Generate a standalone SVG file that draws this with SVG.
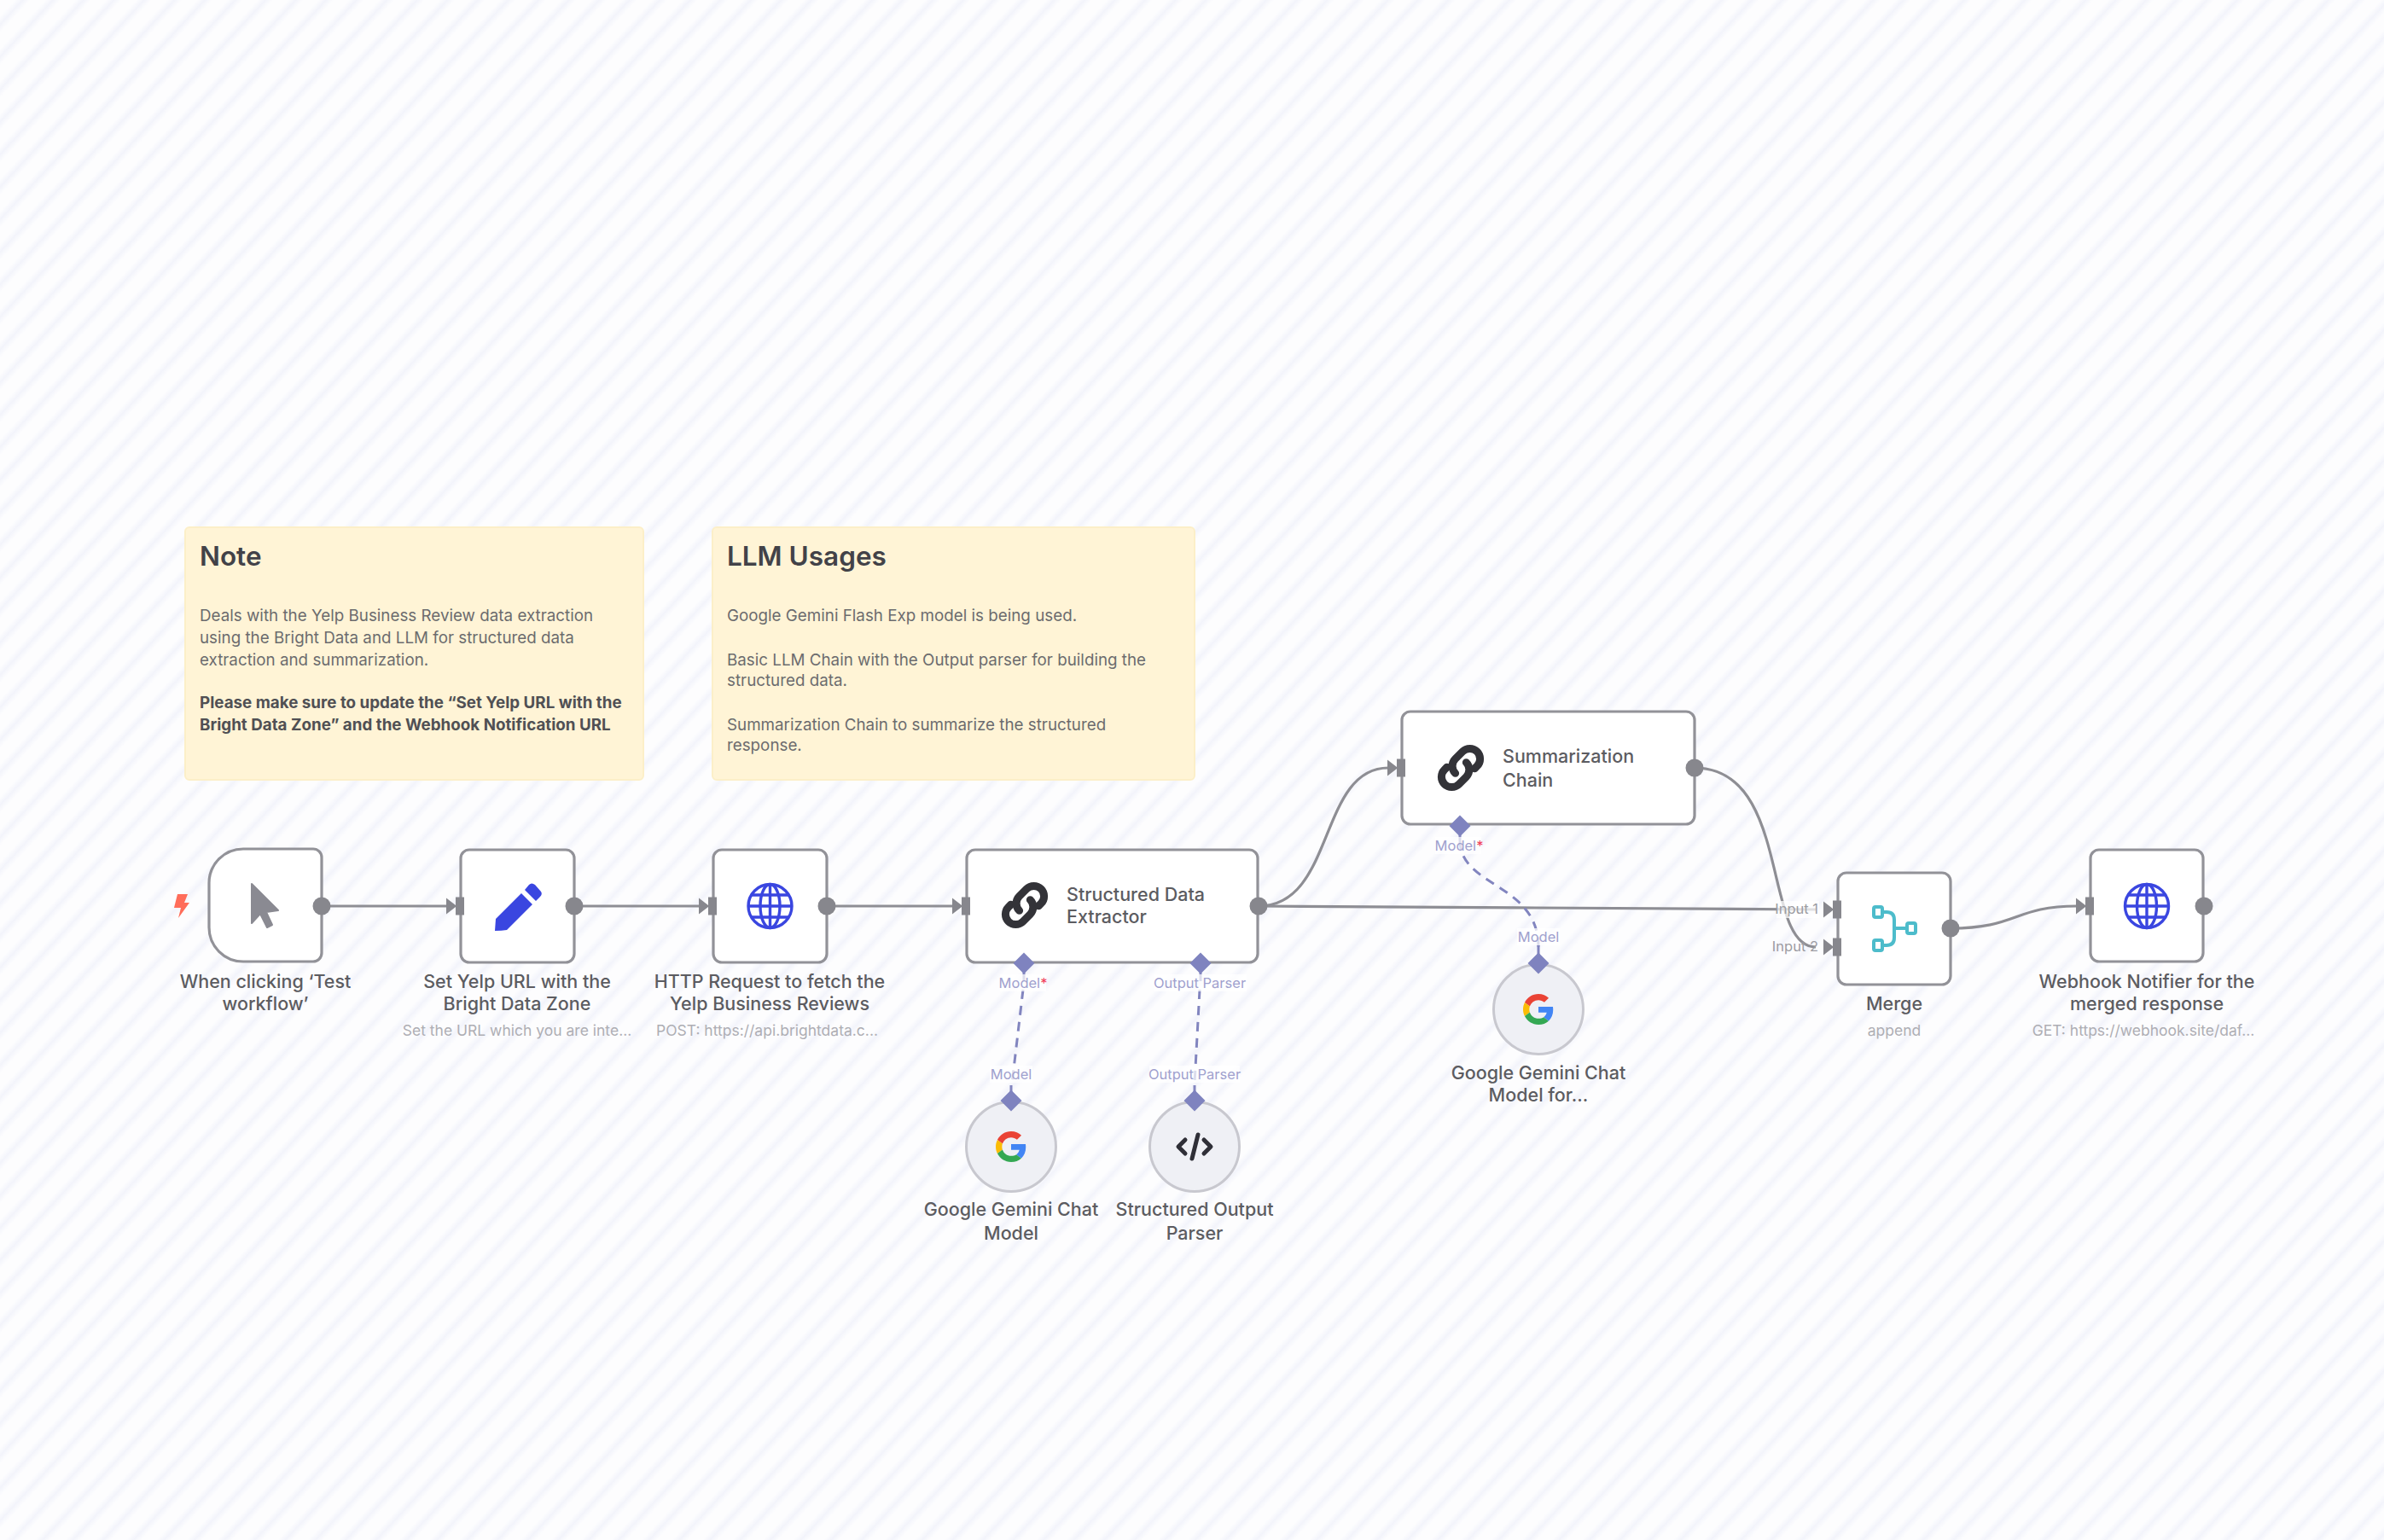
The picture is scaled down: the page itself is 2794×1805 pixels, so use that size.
<svg xmlns="http://www.w3.org/2000/svg" width="2794" height="1805" viewBox="0 0 2794 1805">
<style>
text{font-family:Inter,"Noto Sans","Liberation Sans",sans-serif}
.node{fill:#fff;stroke:#929298;stroke-width:3.2}
.sub{fill:#eff0f5;stroke:#c8c8cf;stroke-width:3}
.lbl{font-size:21.5px;font-weight:500;fill:#5c5c61;text-anchor:middle}
.title{font-size:21.5px;font-weight:500;fill:#5c5c61}
.desc{font-size:17.5px;fill:#aeaeb4;text-anchor:middle}
.port{font-size:16.5px;fill:#a0a1ce;text-anchor:middle}
.inp{font-size:16.5px;fill:#9c9ca2;text-anchor:end}
.req{fill:#f0405a}
.nt{font-size:31.5px;font-weight:600;fill:#424248}
.nb{font-size:18.8px;fill:#6c6c6e}
.nbb{font-size:18.8px;font-weight:700;fill:#505054}
.note{fill:#fff4d6;stroke:#fcefc8;stroke-width:2}
.edge{fill:none;stroke:#8e8e94;stroke-width:3.2}
.dash{fill:none;stroke:#8285bf;stroke-width:3;stroke-dasharray:11 8}
.stub{fill:none;stroke:#8285bf;stroke-width:3}
.dot{fill:#87878d}
.bar{fill:#87878d}
.dia{fill:#7f83bf}
.globe{fill:none;stroke:#3a46e0;stroke-width:3.4}
.link{fill:none;stroke:#333338;stroke-width:9;stroke-linecap:round}
.mrg{fill:none;stroke:#4dbccb;stroke-width:4}
.bgp{fill:#fff;fill-opacity:.72}
</style>
<defs>
<linearGradient id="sg" x1="0" y1="0" x2="0" y2="1">
<stop offset="0" stop-color="#fdfdfe"/><stop offset=".5" stop-color="#fdfdfe"/><stop offset=".75" stop-color="#f3f4fb"/><stop offset="1" stop-color="#fdfdfe"/>
</linearGradient>
<pattern id="stripes" width="60" height="26" patternUnits="userSpaceOnUse" patternTransform="rotate(-47)">
<rect width="60" height="26" fill="url(#sg)"/>
</pattern>
<g id="g-logo" transform="scale(.75)">
<path fill="#EA4335" d="M24 9.5c3.54 0 6.71 1.22 9.21 3.6l6.85-6.85C35.9 2.38 30.47 0 24 0 14.62 0 6.51 5.38 2.56 13.22l7.98 6.19C12.43 13.72 17.74 9.5 24 9.5z"/>
<path fill="#4285F4" d="M46.98 24.55c0-1.57-.15-3.09-.38-4.55H24v9.02h12.94c-.58 2.96-2.26 5.48-4.78 7.18l7.73 6c4.51-4.18 7.09-10.36 7.09-17.65z"/>
<path fill="#FBBC05" d="M10.53 28.59c-.48-1.45-.76-2.99-.76-4.59s.27-3.14.76-4.59l-7.98-6.19C.92 16.46 0 20.12 0 24c0 3.88.92 7.54 2.56 10.78l7.97-6.19z"/>
<path fill="#34A853" d="M24 48c6.48 0 11.93-2.13 15.89-5.81l-7.73-6c-2.15 1.45-4.92 2.3-8.16 2.3-6.26 0-11.57-4.22-13.47-9.91l-7.98 6.19C6.51 42.62 14.62 48 24 48z"/>
</g>
<g id="chain" transform="rotate(-45)">
<path class="link" d="M-11-12H-15A12 12 0 0 0-15 12H-3A12 12 0 0 0 9 0"/>
<path class="link" d="M11 12H15A12 12 0 0 0 15-12H3A12 12 0 0 0-9 0"/>
</g>
<g id="globe">
<circle class="globe" r="25.5"/>
<ellipse class="globe" rx="11.5" ry="25.5"/>
<path class="globe" d="M-25.5 0H25.5M-22-13H22M-22 13H22M0-25.5V25.5"/>
</g>
<path id="inport" class="bar" d="M-21-9.5L-10-1V-10.5H0V10.5H-10V1L-21 9.5Z"/>
<path id="diamond" class="dia" d="M0-12.5L12.5 0 0 12.5-12.5 0Z"/>
</defs>

<rect width="2794" height="1805" fill="url(#stripes)"/>

<g id="note-1">
<rect class="note" x="217" y="618" width="537" height="296" rx="5"/>
<text class="nt" x="234" y="663">Note</text>
<text class="nb" x="234" y="728">Deals with the Yelp Business Review data extraction</text>
<text class="nb" x="234" y="754">using the Bright Data and LLM for structured data</text>
<text class="nb" x="234" y="780">extraction and summarization.</text>
<text class="nbb" x="234" y="830">Please make sure to update the “Set Yelp URL with the</text>
<text class="nbb" x="234" y="856">Bright Data Zone” and the Webhook Notification URL</text>
</g>
<g id="note-2">
<rect class="note" x="835" y="618" width="565" height="296" rx="5"/>
<text class="nt" x="852" y="663">LLM Usages</text>
<text class="nb" x="852" y="728">Google Gemini Flash Exp model is being used.</text>
<text class="nb" x="852" y="780">Basic LLM Chain with the Output parser for building the</text>
<text class="nb" x="852" y="804">structured data.</text>
<text class="nb" x="852" y="856">Summarization Chain to summarize the structured</text>
<text class="nb" x="852" y="880">response.</text>
</g>

<g id="connectors">
<path class="edge" d="M377 1062H524"/>
<path class="edge" d="M673 1062H820"/>
<path class="edge" d="M969 1062H1116"/>
<path class="edge" d="M1475 1062C1565 1062 1545 900 1627 900"/>
<path class="edge" d="M1475 1062C1800 1062 1800 1066 2128 1066"/>
<path class="edge" d="M1986 900C2100 900 2065 1110 2128 1110"/>
<path class="edge" d="M2286 1088C2365 1088 2360 1062 2434 1062"/>
<path class="stub" d="M1200 1129V1150"/>
<path class="dash" d="M1199 1160L1186 1270"/>
<path class="stub" d="M1185 1272V1290"/>
<path class="stub" d="M1407 1129V1150"/>
<path class="dash" d="M1406 1160L1400 1270"/>
<path class="stub" d="M1400 1272V1290"/>
<path class="stub" d="M1711 968V985"/>
<path class="dash" d="M1711 985C1711 1040 1803 1035 1803 1110"/>
<path class="stub" d="M1803 1108V1129"/>
</g>

<g id="trigger">
<path class="node" d="M285 995H367A10 10 0 0 1 377 1005V1117A10 10 0 0 1 367 1127H285A40 40 0 0 1 245 1087V1035A40 40 0 0 1 285 995Z"/>
<path fill="#ff6d5a" d="M208 1048H220L216 1058H222L209 1076L212 1064H204Z"/>
<path fill="#8a8a92" stroke="#8a8a92" stroke-width="2" stroke-linejoin="round" d="M295 1036L326 1067L312 1069L319 1084L313 1087L305 1071L295 1082Z"/>
<circle class="dot" cx="377" cy="1062" r="10.5"/>
<text class="lbl" x="311" y="1158">When clicking ‘Test</text>
<text class="lbl" x="311" y="1184">workflow’</text>
</g>
<g id="set-url">
<rect class="node" x="540" y="996" width="133" height="132" rx="10"/>
<use href="#inport" x="544" y="1062"/>
<path fill="#3a46e0" d="M580 1091L581 1077L611 1047L624 1060L594 1090Q588 1091 580 1091ZM615 1043L620 1037Q623 1034 627 1037L634 1045Q636 1048 633 1051L628 1056Z"/>
<circle class="dot" cx="673" cy="1062" r="10.5"/>
<text class="lbl" x="606" y="1158">Set Yelp URL with the</text>
<text class="lbl" x="606" y="1184">Bright Data Zone</text>
<text class="desc" x="606" y="1214">Set the URL which you are inte...</text>
</g>
<g id="http-request">
<rect class="node" x="836" y="996" width="133" height="132" rx="10"/>
<use href="#inport" x="840" y="1062"/>
<use href="#globe" x="902.500" y="1062"/>
<circle class="dot" cx="969" cy="1062" r="10.5"/>
<text class="lbl" x="902" y="1158">HTTP Request to fetch the</text>
<text class="lbl" x="902" y="1184">Yelp Business Reviews</text>
<text class="desc" x="899" y="1214">POST: https://api.brightdata.c...</text>
</g>
<g id="extractor">
<rect class="node" x="1133" y="996" width="341" height="132" rx="10"/>
<use href="#inport" x="1137" y="1062"/>
<use href="#chain" x="1201" y="1061"/>
<circle class="dot" cx="1475" cy="1062" r="10.5"/>
<text class="title" x="1250" y="1056">Structured Data</text>
<text class="title" x="1250" y="1082">Extractor</text>
<use href="#diamond" x="1200" y="1129"/>
<use href="#diamond" x="1407" y="1129"/>
<rect class="bgp" x="1172" y="1142" width="54" height="20"/>
<text class="port" x="1199" y="1158">Model<tspan class="req">*</tspan></text>
<rect class="bgp" x="1353" y="1142" width="108" height="20"/>
<text class="port" x="1406" y="1158">Output Parser</text>
</g>
<g id="gemini-1">
<circle class="sub" cx="1185" cy="1344" r="52.500"/>
<use href="#g-logo" x="1167" y="1326"/>
<use href="#diamond" x="1185" y="1290"/>
<rect class="bgp" x="1160" y="1249" width="50" height="20"/>
<text class="port" x="1185" y="1265">Model</text>
<text class="lbl" x="1185" y="1425">Google Gemini Chat</text>
<text class="lbl" x="1185" y="1453">Model</text>
</g>
<g id="output-parser">
<circle class="sub" cx="1400" cy="1344" r="52.500"/>
<path fill="none" stroke="#2f2f37" stroke-width="5" stroke-linecap="round" stroke-linejoin="round" d="M1389 1336L1381 1344L1389 1352M1411 1336L1419 1344L1411 1352M1404 1330L1397 1358"/>
<use href="#diamond" x="1400" y="1290"/>
<rect class="bgp" x="1347" y="1249" width="106" height="20"/>
<text class="port" x="1400" y="1265">Output Parser</text>
<text class="lbl" x="1400" y="1425">Structured Output</text>
<text class="lbl" x="1400" y="1453">Parser</text>
</g>
<g id="summarization">
<rect class="node" x="1643" y="834" width="343" height="132" rx="10"/>
<use href="#inport" x="1647" y="900"/>
<use href="#chain" x="1712" y="900"/>
<circle class="dot" cx="1986" cy="900" r="10.5"/>
<text class="title" x="1761" y="894">Summarization</text>
<text class="title" x="1761" y="922">Chain</text>
<use href="#diamond" x="1711" y="968"/>
<rect class="bgp" x="1682" y="981" width="54" height="20"/>
<text class="port" x="1710" y="997">Model<tspan class="req">*</tspan></text>
</g>
<g id="gemini-2">
<circle class="sub" cx="1803" cy="1183" r="52.500"/>
<use href="#g-logo" x="1785" y="1165"/>
<use href="#diamond" x="1803" y="1129"/>
<rect class="bgp" x="1778" y="1088" width="50" height="20"/>
<text class="port" x="1803" y="1104">Model</text>
<text class="lbl" x="1803" y="1265">Google Gemini Chat</text>
<text class="lbl" x="1803" y="1291">Model for...</text>
</g>
<g id="merge">
<rect class="node" x="2154" y="1023" width="132" height="131" rx="10"/>
<rect class="bgp" x="2082" y="1056" width="50" height="20"/>
<use href="#inport" x="2158" y="1066"/>
<use href="#inport" x="2158" y="1110"/>
<text class="inp" x="2131" y="1071">Input 1</text>
<text class="inp" x="2131" y="1115">Input 2</text>
<path class="mrg" d="M2206 1069H2211Q2220 1069 2220 1078V1099Q2220 1108 2211 1108H2206M2220 1088H2235"/>
<rect class="mrg" x="2196" y="1063" width="10" height="12" rx="2"/>
<rect class="mrg" x="2196" y="1102" width="10" height="12" rx="2"/>
<rect class="mrg" x="2235" y="1082" width="10" height="12" rx="2"/>
<circle class="dot" cx="2286" cy="1088" r="10.5"/>
<text class="lbl" x="2220" y="1184">Merge</text>
<text class="desc" x="2220" y="1214">append</text>
</g>
<g id="webhook">
<rect class="node" x="2450" y="996" width="132" height="131" rx="10"/>
<use href="#inport" x="2454" y="1062"/>
<use href="#globe" x="2516" y="1062"/>
<circle class="dot" cx="2583" cy="1062" r="10.5"/>
<text class="lbl" x="2516" y="1158">Webhook Notifier for the</text>
<text class="lbl" x="2516" y="1184">merged response</text>
<text class="desc" x="2512" y="1214">GET: https://webhook.site/daf...</text>
</g>
</svg>
